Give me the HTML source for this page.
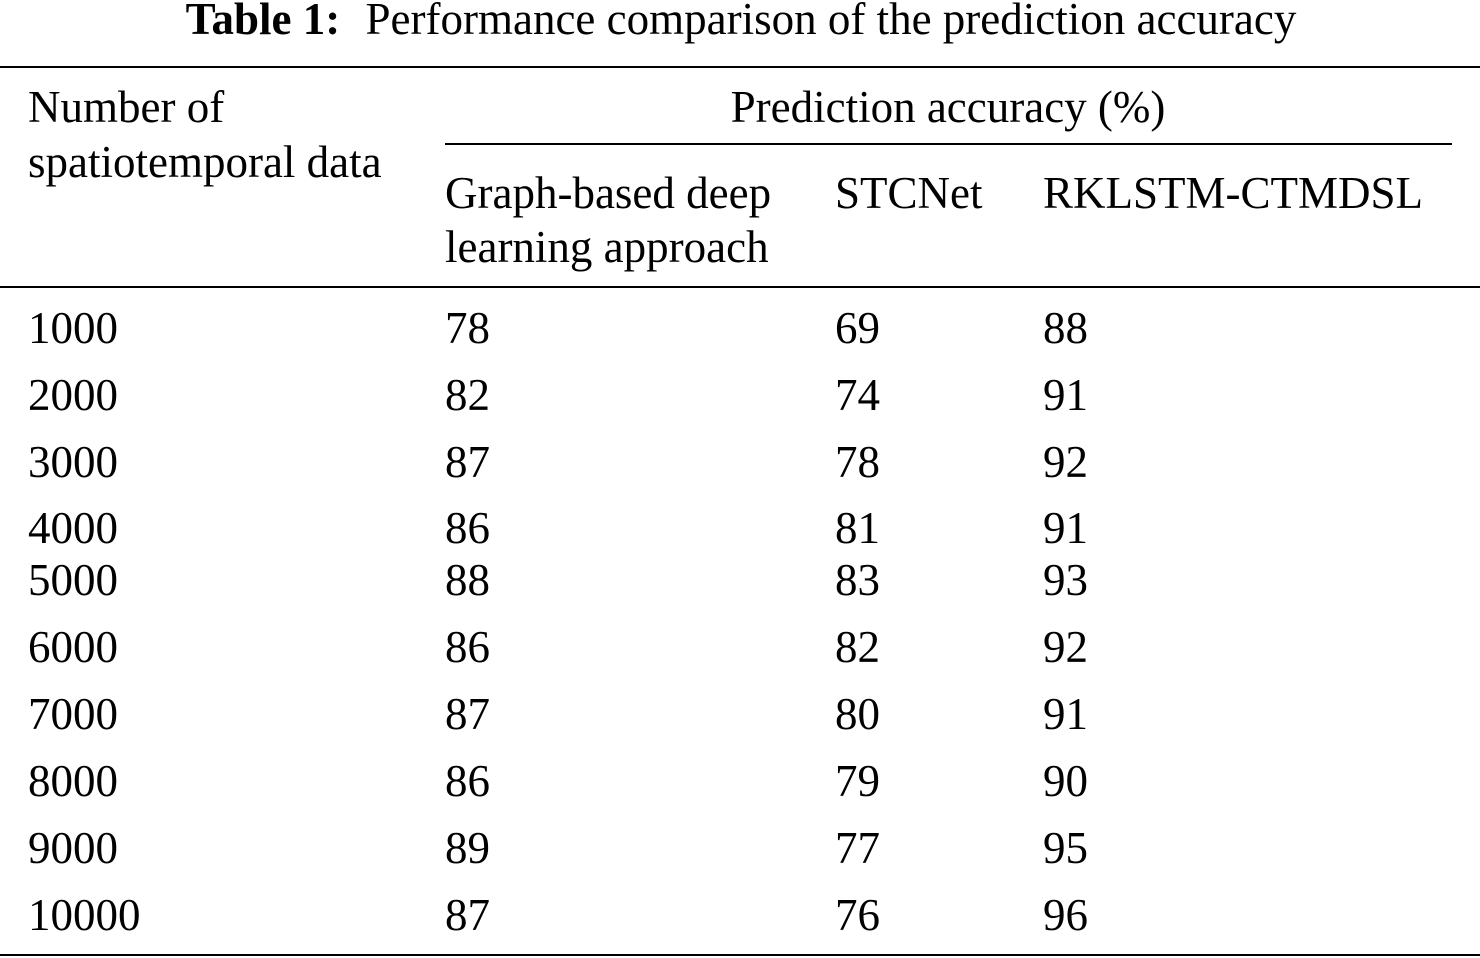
<!DOCTYPE html>
<html><head><meta charset="utf-8"><style>
html,body{margin:0;padding:0;background:#fff;}
svg{display:block;}
text{font-family:"Liberation Serif","Times New Roman",serif;font-size:45px;fill:#000;}
</style></head><body>
<svg width="1480" height="958" viewBox="0 0 1480 958" xmlns="http://www.w3.org/2000/svg">
<text x="741" y="34" text-anchor="middle" style="font-size:45px"><tspan font-weight="bold">Table 1:</tspan><tspan dx="14"> Performance comparison of the prediction accuracy</tspan></text>
<rect x="0" y="66" width="1480" height="2"/>
<rect x="445" y="143" width="1007" height="2"/>
<rect x="0" y="286" width="1480" height="2"/>
<rect x="0" y="954" width="1480" height="2"/>
<text x="28" y="122">Number of</text>
<text x="28" y="177">spatiotemporal data</text>
<text x="948" y="122" text-anchor="middle">Prediction accuracy (%)</text>
<text x="445" y="208">Graph-based deep</text>
<text x="445" y="262">learning approach</text>
<text x="835" y="208">STCNet</text>
<text x="1043" y="208">RKLSTM-CTMDSL</text>
<g>
<text x="28" y="343">1000</text><text x="445" y="343">78</text><text x="835" y="343">69</text><text x="1043" y="343">88</text>
<text x="28" y="410">2000</text><text x="445" y="410">82</text><text x="835" y="410">74</text><text x="1043" y="410">91</text>
<text x="28" y="477">3000</text><text x="445" y="477">87</text><text x="835" y="477">78</text><text x="1043" y="477">92</text>
<text x="28" y="543">4000</text><text x="445" y="543">86</text><text x="835" y="543">81</text><text x="1043" y="543">91</text>
<text x="28" y="595">5000</text><text x="445" y="595">88</text><text x="835" y="595">83</text><text x="1043" y="595">93</text>
<text x="28" y="662">6000</text><text x="445" y="662">86</text><text x="835" y="662">82</text><text x="1043" y="662">92</text>
<text x="28" y="729">7000</text><text x="445" y="729">87</text><text x="835" y="729">80</text><text x="1043" y="729">91</text>
<text x="28" y="796">8000</text><text x="445" y="796">86</text><text x="835" y="796">79</text><text x="1043" y="796">90</text>
<text x="28" y="863">9000</text><text x="445" y="863">89</text><text x="835" y="863">77</text><text x="1043" y="863">95</text>
<text x="28" y="930">10000</text><text x="445" y="930">87</text><text x="835" y="930">76</text><text x="1043" y="930">96</text>
</g>
</svg>
</body></html>
